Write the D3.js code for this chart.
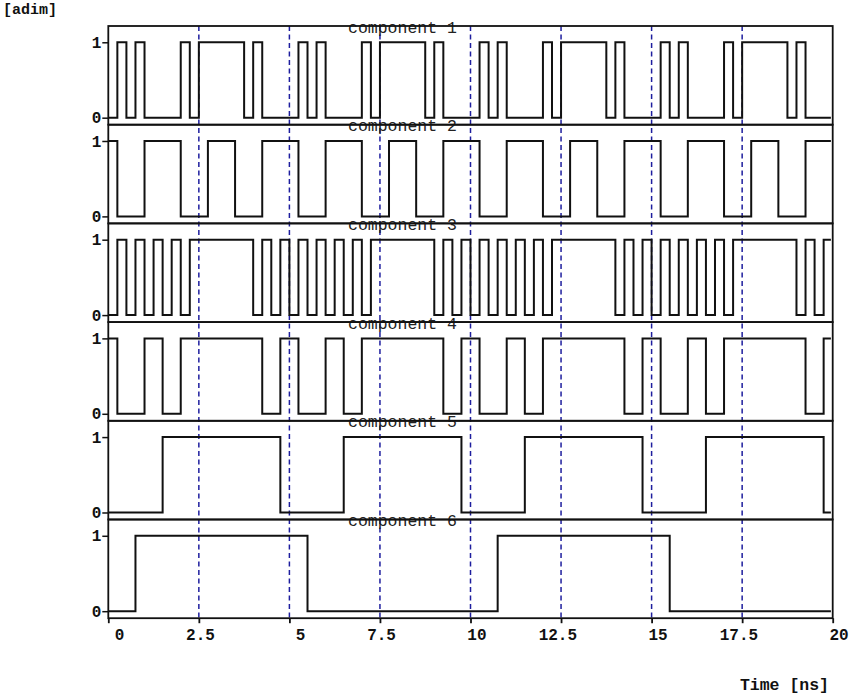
<!DOCTYPE html>
<html>
<head>
<meta charset="utf-8">
<script src="https://cdn.jsdelivr.net/npm/d3@7"></script>
<style>
  html, body { margin: 0; padding: 0; background: #fff; }
  svg { display: block; }
  text { font-family: "Liberation Mono", "DejaVu Sans Mono", monospace; }
</style>
</head>
<body>
<svg id="chart" width="850" height="696"></svg>
<script>
// ---- data: step signals as [time (ns), level] change points ----
const componentNames = ["component 1", "component 2", "component 3", "component 4", "component 5", "component 6"];

const component1 = [
  [0,0],[0.25,1],[0.5,0],[0.75,1],[1.0,0],[2.0,1],[2.25,0],[2.5,1],[3.75,0],[4.0,1],[4.25,0],
  [5.25,1],[5.5,0],[5.75,1],[6.0,0],[7.0,1],[7.25,0],[7.5,1],[8.75,0],[9.0,1],[9.25,0],
  [10.25,1],[10.5,0],[10.75,1],[11.0,0],[12.0,1],[12.25,0],[12.5,1],[13.75,0],[14.0,1],[14.25,0],
  [15.25,1],[15.5,0],[15.75,1],[16.0,0],[17.0,1],[17.25,0],[17.5,1],[18.75,0],[19.0,1],[19.25,0]
];
const component2 = [
  [0,1],[0.25,0],[1.0,1],[2.0,0],[2.75,1],[3.5,0],[4.25,1],
  [5.25,0],[6.0,1],[7.0,0],[7.75,1],[8.5,0],[9.25,1],
  [10.25,0],[11.0,1],[12.0,0],[12.75,1],[13.5,0],[14.25,1],
  [15.25,0],[16.0,1],[17.0,0],[17.75,1],[18.5,0],[19.25,1]
];
const component3 = [
  [0,0],[0.25,1],[0.5,0],[0.75,1],[1.0,0],[1.25,1],[1.5,0],[1.75,1],[2.0,0],[2.25,1],[4.0,0],[4.25,1],[4.5,0],[4.75,1],
  [5.0,0],[5.25,1],[5.5,0],[5.75,1],[6.0,0],[6.25,1],[6.5,0],[6.75,1],[7.0,0],[7.25,1],[9.0,0],[9.25,1],[9.5,0],[9.75,1],
  [10.0,0],[10.25,1],[10.5,0],[10.75,1],[11.0,0],[11.25,1],[11.5,0],[11.75,1],[12.0,0],[12.25,1],[14.0,0],[14.25,1],[14.5,0],[14.75,1],
  [15.0,0],[15.25,1],[15.5,0],[15.75,1],[16.0,0],[16.25,1],[16.5,0],[16.75,1],[17.0,0],[17.25,1],[19.0,0],[19.25,1],[19.5,0],[19.75,1]
];
const component4 = [
  [0,1],[0.25,0],[1.0,1],[1.5,0],[2.0,1],[4.25,0],[4.75,1],
  [5.25,0],[6.0,1],[6.5,0],[7.0,1],[9.25,0],[9.75,1],
  [10.25,0],[11.0,1],[11.5,0],[12.0,1],[14.25,0],[14.75,1],
  [15.25,0],[16.0,1],[16.5,0],[17.0,1],[19.25,0],[19.75,1]
];
const component5 = [
  [0,0],[1.5,1],[4.75,0],[6.5,1],[9.75,0],[11.5,1],[14.75,0],[16.5,1],[19.75,0]
];
const component6 = [
  [0,0],[0.75,1],[5.5,0],[10.75,1],[15.5,0]
];
const signalEnd = 19.95;

const xTicks = [0, 2.5, 5, 7.5, 10, 12.5, 15, 17.5, 20];
const xTickLabels = ["0", "2.5", "5", "7.5", "10", "12.5", "15", "17.5", "20"];
const gridTimes = [2.5, 5, 7.5, 10, 12.5, 15, 17.5];
const yTicks = [0, 1];
const yTickLabels = ["0", "1"];
const yLabel = "[adim]";
const xLabel = "Time [ns]";

// ---- layout ----
const components = [component1, component2, component3, component4, component5, component6];
const svg = d3.select("#chart");
const left = 108.3, right = 832.7;
const plotTop = 26, plotBottom = 618.2;
const nPanels = components.length;
const panelH = (plotBottom - plotTop) / nPanels;

const x = d3.scaleLinear().domain([0, 20]).range([left, right]);

// dashed vertical grid
svg.append("g").selectAll("line").data(gridTimes).join("line")
  .attr("x1", d => x(d)).attr("x2", d => x(d))
  .attr("y1", plotTop).attr("y2", plotBottom)
  .attr("stroke", "#1e1e9e").attr("stroke-width", 1.5)
  .attr("stroke-dasharray", "5,3.5");

const line = d3.line().curve(d3.curveStepAfter);

components.forEach((data, i) => {
  const top = plotTop + i * panelH;
  const bottom = top + panelH;
  const y = d3.scaleLinear().domain([-0.093, 1.216]).range([bottom, top]);
  const g = svg.append("g");

  // title (under the frame line)
  g.append("text")
    .attr("x", left + (348 - left))
    .attr("y", top + 6.5)
    .attr("font-size", 16.5)
    .attr("fill", "#222")
    .text(componentNames[i]);

  // signal
  const pts = data.map(d => [x(d[0]), y(d[1])]);
  pts.push([x(signalEnd), y(data[data.length - 1][1])]);
  g.append("path").attr("d", line(pts))
    .attr("fill", "none").attr("stroke", "#111").attr("stroke-width", 2);

  // y axis
  const ya = d3.axisLeft(y).tickValues(yTicks).tickSize(6).tickPadding(1)
    .tickFormat((d, k) => yTickLabels[k]);
  const yg = g.append("g").attr("transform", `translate(${left},0)`).call(ya);
  yg.select(".domain").remove();
  yg.selectAll("line").attr("stroke", "#111").attr("stroke-width", 1.5);
  yg.selectAll("text").attr("font-size", 16).attr("font-weight", "bold")
    .attr("fill", "#111").attr("font-family", "Liberation Mono, monospace");

  // frame
  g.append("rect")
    .attr("x", left).attr("y", top)
    .attr("width", right - left).attr("height", panelH)
    .attr("fill", "none").attr("stroke", "#111").attr("stroke-width", 1.8);
});

// bottom axis
const xa = d3.axisBottom(x).tickValues(xTicks).tickSize(5)
  .tickFormat((d, k) => xTickLabels[k]);
const xg = svg.append("g").attr("transform", `translate(0,${plotBottom})`).call(xa);
xg.select(".domain").remove();
xg.selectAll("line").attr("stroke", "#111").attr("stroke-width", 1.8);
xg.selectAll("text")
  .attr("font-size", 16).attr("font-weight", "bold").attr("fill", "#111")
  .attr("font-family", "Liberation Mono, monospace")
  .attr("text-anchor", "end").attr("x", 15.5).attr("y", 21.8).attr("dy", 0);

// axis labels
svg.append("text").attr("x", 3).attr("y", 13.5)
  .attr("font-size", 15).attr("font-weight", "bold").attr("fill", "#111")
  .text(yLabel);
svg.append("text").attr("x", 829).attr("y", 690).attr("text-anchor", "end")
  .attr("font-size", 16.5).attr("font-weight", "bold").attr("fill", "#111")
  .text(xLabel);
</script>
</body>
</html>
